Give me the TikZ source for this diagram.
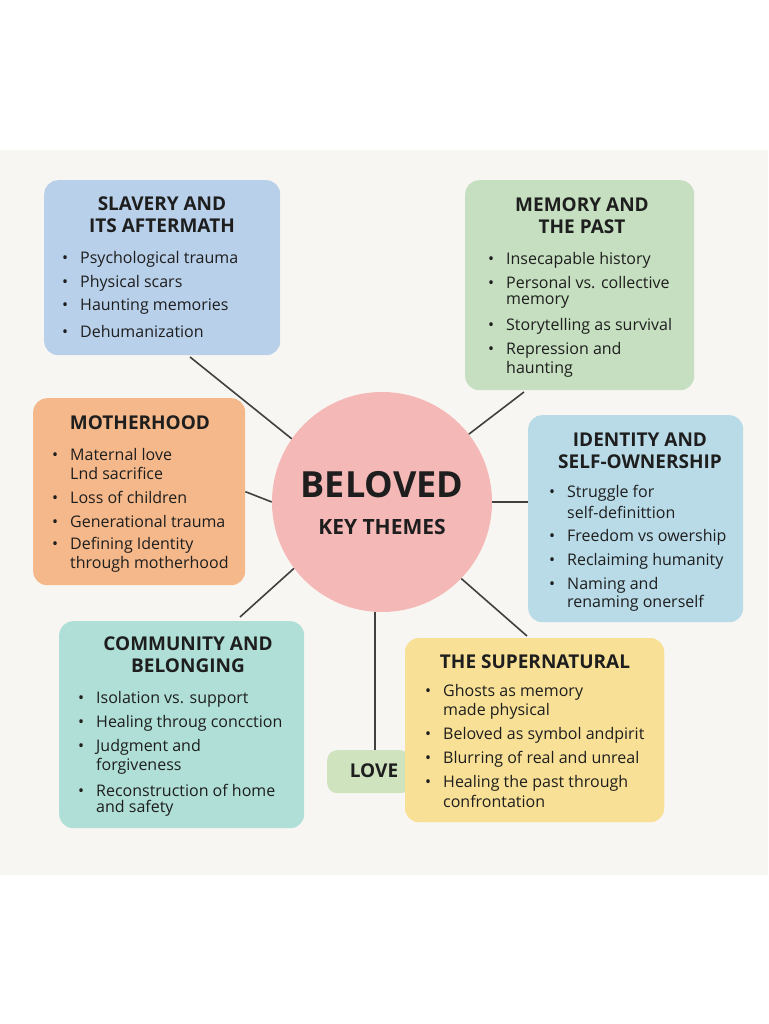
\documentclass[tikz,border=0pt]{standalone}
\usepackage{fontspec}
\setmainfont{Open Sans}
\definecolor{bgc}{HTML}{F8F6F2}
\definecolor{cblue}{HTML}{B9D0EA}
\definecolor{cgreen}{HTML}{C5DFC0}
\definecolor{corange}{HTML}{F5B88A}
\definecolor{cltblue}{HTML}{B9DBE8}
\definecolor{cteal}{HTML}{AFDFD6}
\definecolor{cyellow}{HTML}{F8E196}
\definecolor{clove}{HTML}{CFE3BF}
\definecolor{cpink}{HTML}{F4B8B6}
\definecolor{ink}{HTML}{1E1E1E}
\tikzset{
 box/.style={rounded corners=14pt, draw=none, anchor=north west, inner sep=0pt},
 ttl/.style={font=\fontsize{19}{22}\selectfont\bfseries, text=ink, align=center},
 itm/.style={font=\fontsize{16}{19}\selectfont, text=ink, anchor=west, inner sep=0pt},
 conn/.style={draw=ink!85, line width=1.6pt}
}
\newcommand{\bl}[4]{\node[itm] (#1) at (#2,#3) {\makebox[18pt][l]{•}#4};}
\newcommand{\cl}[4]{\node[itm] (#1) at (#2+18,#3) {#4};}
\begin{document}
\begin{tikzpicture}[x=1pt,y=-1pt]
\useasboundingbox (0,0) rectangle (768,1024);
\fill[bgc] (0,150) rectangle (768,875);
% boxes
\node[box, fill=cblue, minimum width=236pt, minimum height=175pt] (slav) at (44,180) {};
\node[box, fill=cgreen, minimum width=229pt, minimum height=210pt] (mem) at (465,180) {};
\node[box, fill=corange, minimum width=212pt, minimum height=187pt] (moth) at (33,398) {};
\node[box, fill=cltblue, minimum width=215pt, minimum height=207pt] (iden) at (528,415) {};
\node[box, fill=cteal, minimum width=245pt, minimum height=207pt] (comm) at (59,621) {};
\node[box, rounded corners=10pt, fill=clove, minimum width=83pt, minimum height=43pt] (love) at (327,750) {};
\node[box, fill=cyellow, minimum width=259pt, minimum height=184pt] (sup) at (405,638) {};
\node[circle, fill=cpink, minimum size=220pt, inner sep=0pt] (c) at (382,502) {};
% connectors
\draw[conn] (190,357) -- (c.145);
\draw[conn] (c.38) -- (524,392);
\draw[conn] (moth.east) -- (c.west);
\draw[conn] (c.east) -- (iden.west |- c.east);
\draw[conn] (240,617) -- (c.217);
\draw[conn] (c.316) -- (527,636);
\draw[conn] (375,612) -- (375,750);
% center text
\node[font=\fontsize{36}{40}\selectfont\bfseries, text=ink] (t1) at (382,485) {BELOVED};
\node[font=\fontsize{21}{24}\selectfont\bfseries, text=ink] (t2) at (382,527) {KEY THEMES};
% slavery
\node[ttl] (s0) at (162,215) {SLAVERY AND\\ITS AFTERMATH};
\bl{s1}{62}{259}{Psychological trauma}
\bl{s2}{62}{283}{Physical scars}
\bl{s3}{62}{307}{Haunting memories}
\bl{s4}{62}{331}{Dehumanization}
% memory
\node[ttl] (m0) at (582,216) {MEMORY AND\\THE PAST};
\bl{m1}{488}{260}{Insecapable history}
\bl{m2}{488}{283}{Personal vs. collective}
\cl{m3}{488}{302}{memory}
\bl{m4}{488}{326}{Storytelling as survival}
\bl{m5}{488}{350}{Repression and}
\cl{m6}{488}{369}{haunting}
% motherhood
\node[ttl] (h0) at (140,423) {MOTHERHOOD};
\bl{h1}{52}{454}{Maternal love}
\cl{h2}{52}{473}{Lnd sacrifice}
\bl{h3}{52}{497}{Loss of children}
\bl{h4}{52}{521}{Generational trauma}
\bl{h5}{52}{545}{Defining Identity}
\cl{h6}{52}{564}{through motherhood}
% identity
\node[ttl] (i0) at (640,451) {IDENTITY AND\\SELF-OWNERSHIP};
\bl{i1}{549}{493}{Struggle for}
\cl{i2}{549}{512}{self-definittion}
\bl{i3}{549}{537}{Freedom vs owership}
\bl{i4}{549}{561}{Reclaiming humanity}
\bl{i5}{549}{585}{Naming and}
\cl{i6}{549}{603}{renaming onerself}
% community
\node[ttl] (k0) at (188,655) {COMMUNITY AND\\BELONGING};
\bl{k1}{78}{699}{Isolation vs. support}
\bl{k2}{78}{723}{Healing throug concction}
\bl{k3}{78}{747}{Judgment and}
\cl{k4}{78}{766}{forgiveness}
\bl{k5}{78}{790}{Reconstruction of home}
\cl{k6}{78}{808}{and safety}
% love
\node[ttl] (l0) at (374,771) {LOVE};
\fill[cyellow, rounded corners=14pt] (405,638) rectangle (664,822);
% supernatural
\node[ttl] (u0) at (535,662) {THE SUPERNATURAL};
\bl{u1}{425}{692}{Ghosts as memory}
\cl{u2}{425}{711}{made physical}
\bl{u3}{425}{735}{Beloved as symbol andpirit}
\bl{u4}{425}{759}{Blurring of real and unreal}
\bl{u5}{425}{783}{Healing the past through}
\cl{u6}{425}{801}{confrontation}
\end{tikzpicture}
\end{document}
